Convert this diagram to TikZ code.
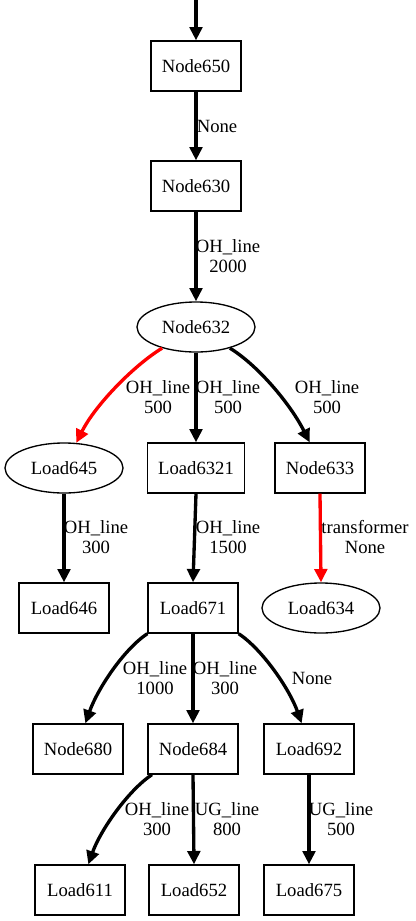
\documentclass[tikz,border=0pt]{standalone}
\usepackage{fontspec}
\setmainfont{Liberation Serif}
\newfontfamily\lblserif{Liberation Serif}
\usetikzlibrary{shapes.geometric,arrows.meta}
\begin{document}
\begin{tikzpicture}[x=0.75pt,y=-0.75pt,
  every node/.style={font=\lblserif\fontsize{14}{15}\selectfont},
  box/.style={draw,line width=1pt,rectangle,minimum height=37.5pt,minimum width=67.5pt,inner xsep=8pt,inner ysep=0pt},
  oval/.style={draw,line width=1pt,ellipse,minimum width=88.5pt,minimum height=37.5pt,inner sep=0pt},
  edge/.style={line width=2.5pt,-{Triangle[length=10pt,width=9.5pt]}},
  rededge/.style={edge,red},
  lbl/.style={align=center,inner sep=0pt}]
\useasboundingbox (0,0) rectangle (415,921);
\coordinate (top) at (196,0);
\node[box] (n650) at (196,66) {Node650};
\node[box] (n630) at (196,186) {Node630};
\node[oval] (n632) at (196,327) {Node632};
\node[oval] (l645) at (64,468) {Load645};
\node[box] (l6321) at (196,468) {Load6321};
\node[box] (n633) at (320,468) {Node633};
\node[box] (l646) at (64,608) {Load646};
\node[box] (l671) at (193,608) {Load671};
\node[oval] (l634) at (321,608) {Load634};
\node[box] (n680) at (78,749) {Node680};
\node[box] (n684) at (193,749) {Node684};
\node[box] (l692) at (309,749) {Load692};
\node[box] (l611) at (80,890) {Load611};
\node[box] (l652) at (194,890) {Load652};
\node[box] (l675) at (309,890) {Load675};

\draw[edge] (top) -- (n650.north);
\draw[edge] (n650) -- (n630);
\draw[edge] (n630) -- (n632);
\draw[rededge] (n632.212) .. controls +(-28,17) and +(19,-38) .. (l645.64);
\draw[edge] (n632) -- (l6321);
\draw[edge] (n632.328) .. controls +(28,17) and +(-19,-38) .. (n633.112);
\draw[edge] (l645) -- (l646);
\draw[edge] (l6321.south) -- (l671.north);
\draw[rededge] (n633.south) -- (l634.north);
\draw[edge] (l671.south west) .. controls +(-24,16) and +(12,-34) .. (n680.74);
\draw[edge] (l671) -- (n684);
\draw[edge] (l671.south east) .. controls +(24,16) and +(-12,-34) .. (l692.106);
\draw[edge] (n684.212) .. controls +(-24,16) and +(12,-34) .. (l611.72);
\draw[edge] (n684.south) -- (l652.north);
\draw[edge] (l692) -- (l675);

\node[lbl] (t1) at (217,126) {None};
\node[lbl] (t2) at (228,256) {OH\_line\\2000};
\node[lbl] (t3) at (158,397) {OH\_line\\500};
\node[lbl] (t4) at (228,397) {OH\_line\\500};
\node[lbl] (t5) at (327,397) {OH\_line\\500};
\node[lbl] (t6) at (96,537) {OH\_line\\300};
\node[lbl] (t7) at (228,537) {OH\_line\\1500};
\node[lbl] (t8) at (365,537) {transformer\\None};
\node[lbl] (t9) at (155,678) {OH\_line\\1000};
\node[lbl] (t10) at (225,678) {OH\_line\\300};
\node[lbl] (t11) at (312,678) {None};
\node[lbl] (t12) at (157,819) {OH\_line\\300};
\node[lbl] (t13) at (227,819) {UG\_line\\800};
\node[lbl] (t14) at (341,819) {UG\_line\\500};
\end{tikzpicture}
\end{document}
